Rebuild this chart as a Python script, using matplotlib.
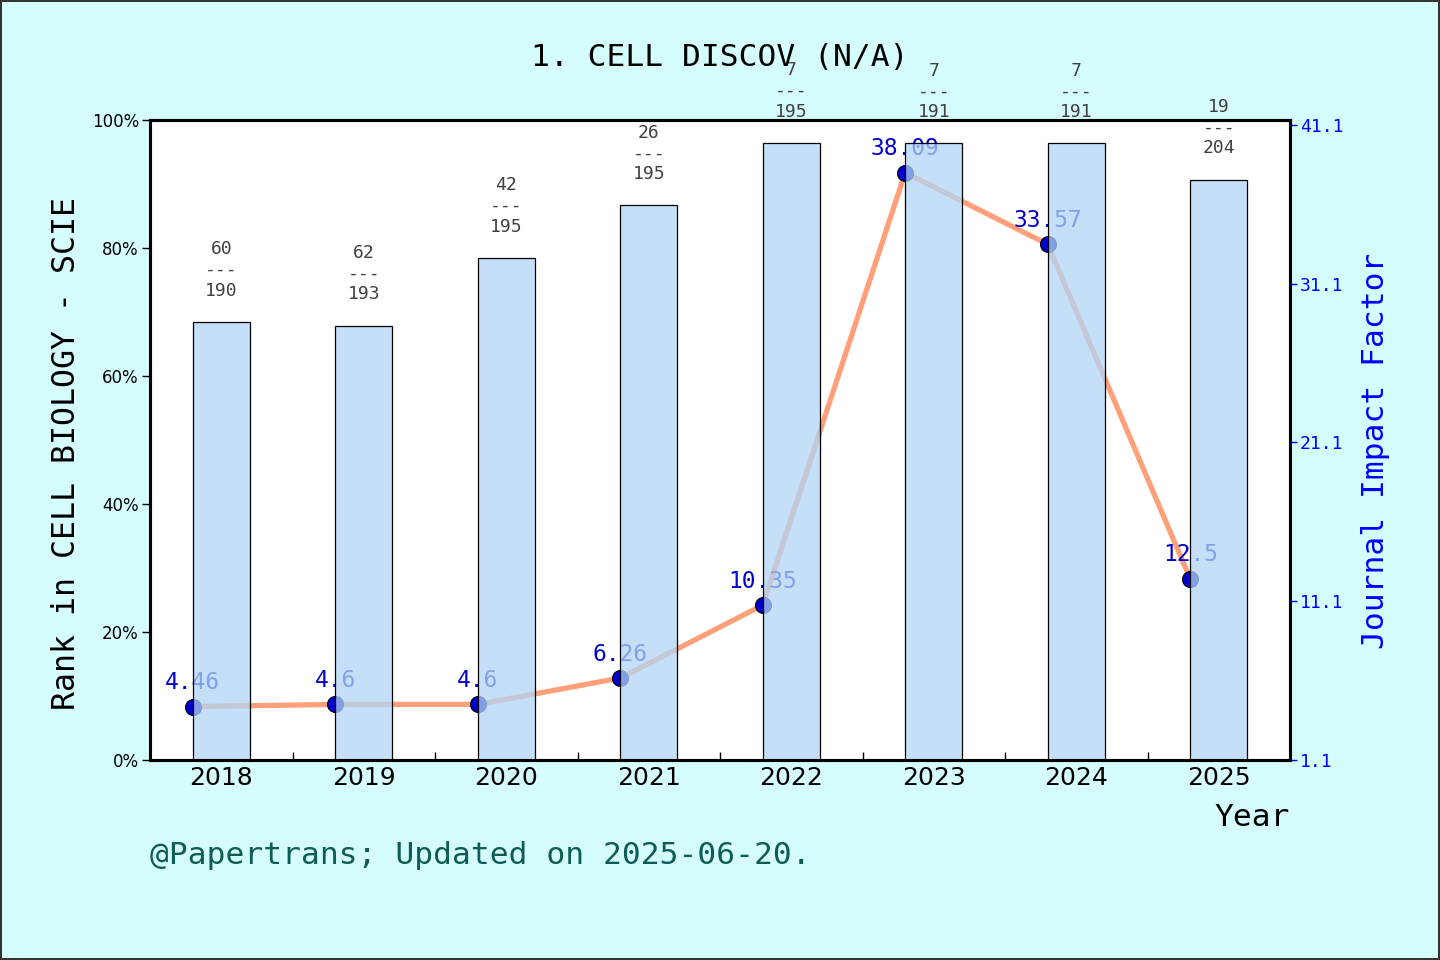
import matplotlib
matplotlib.use("Agg")
import matplotlib.pyplot as plt
import numpy as np
from matplotlib.ticker import FixedLocator, PercentFormatter

years = ["2018", "2019", "2020", "2021", "2022", "2023", "2024", "2025"]
ranks = [60, 62, 42, 26, 7, 7, 7, 19]
totals = [190, 193, 195, 195, 195, 191, 191, 204]
# impact factor as plotted (point heights) and as labelled
impact = [4.46, 4.6, 4.6, 6.26, 10.85, 38.09, 33.57, 12.5]
impact_labels = ["4.46", "4.6", "4.6", "6.26", "10.35", "38.09", "33.57", "12.5"]
if_ticks = [1.1, 11.1, 21.1, 31.1, 41.1]

title = "1. CELL DISCOV (N/A)"
left_label = "Rank in CELL BIOLOGY - SCIE"
right_label = "Journal Impact Factor"
footnote = "@Papertrans; Updated on 2025-06-20."

mono = "DejaVu Sans Mono"
bg = "#D6FDFD"

fig = plt.figure(figsize=(14.4, 9.6), dpi=100, facecolor=bg)
fig.patch.set_edgecolor("#333333")
fig.patch.set_linewidth(1.5)

ax2 = fig.add_axes([150/1440, 1-760/960, 1140/1440, 640/960])
ax = ax2.twinx()
# bars axis drawn above the line axis
ax2.set_zorder(1)
ax.set_zorder(2)
ax.patch.set_visible(False)
ax2.set_facecolor("white")

x = np.arange(len(years))
share = [1 - r / t for r, t in zip(ranks, totals)]

# line (impact factor) on ax2, which is under the bars
ax2.plot(x, impact, color="#FFA07A", lw=3.8, zorder=2, solid_capstyle="butt")
ax2.plot(x, impact, "o", ms=11.5, mfc="#0000CD", mec="black", mew=0.8, zorder=3)
for xi, v, lab in zip(x, impact, impact_labels):
    ax2.annotate(lab, (xi, v), xytext=(0, 9), textcoords="offset points",
                 ha="center", va="bottom", color="#0000CD", fontsize=16.5,
                 family=mono, zorder=4)
ax2.set_ylim(1.1, 41.4)
ax2.set_xlim(-0.3, 7.7)

# bars on ax (left spine: percentage)
ax.bar(x, share, width=0.4, align="edge", facecolor=(176/255, 213/255, 245/255, 0.75),
       edgecolor="black", linewidth=0.9, zorder=2)
for xi, s, r, t in zip(x, share, ranks, totals):
    ax.annotate(f"{r}\n---\n{t}", (xi + 0.2, s), xytext=(0, 16), textcoords="offset points",
                ha="center", va="bottom", color="#404040", fontsize=13,
                family=mono, linespacing=1.2, annotation_clip=False, zorder=5)
ax.set_ylim(0, 1)

# put percentage axis on the left, IF on the right
ax.yaxis.set_label_position("left")
ax.yaxis.tick_left()
ax2.yaxis.set_label_position("right")
ax2.yaxis.tick_right()

ax.yaxis.set_major_locator(FixedLocator([0, 0.2, 0.4, 0.6, 0.8, 1.0]))
ax.yaxis.set_major_formatter(PercentFormatter(1.0, decimals=0))
ax.tick_params(axis="y", direction="out", length=6, width=1, labelsize=12, colors="black", pad=2)

ax2.yaxis.set_major_locator(FixedLocator(if_ticks))
ax2.set_yticklabels([f"{v:.1f}" for v in if_ticks])
ax2.tick_params(axis="y", direction="out", length=5, width=1, labelsize=13, colors="#0000FF",
                pad=2)
for lab in ax2.get_yticklabels():
    lab.set_family(mono)

# x axis: labels at bar centers, tick marks between
ax2.set_xticks(x + 0.2)
ax2.set_xticklabels(years, fontsize=18)
ax2.tick_params(axis="x", which="major", length=0, pad=4)
ax2.set_xticks(np.arange(len(years)) + 0.7, minor=True)
ax2.tick_params(axis="x", which="minor", direction="in", length=6, width=1)
ax2.set_xlim(-0.3, 7.7)

for a in (ax, ax2):
    for sp in a.spines.values():
        sp.set_linewidth(2.2)
        sp.set_color("black")

fig.text(720/1440, 1-57/960, title, ha="center", va="center", fontsize=22.5, family=mono)
fig.text(67/1440, 1-454/960, left_label, ha="center", va="center", rotation=90,
         fontsize=22.8, family=mono)
fig.text(1375/1440, 1-451/960, right_label, ha="center", va="center", rotation=90,
         fontsize=22.5, family=mono, color="#0000FF")
fig.text(1290/1440, 1-817/960, "Year", ha="right", va="center", fontsize=22.5, family=mono)
fig.text(150/1440, 1-855/960, footnote, ha="left", va="center", fontsize=22.5, family=mono,
         color="#0E5C58")

fig.savefig("out.png", dpi=100, facecolor=bg, edgecolor=fig.patch.get_edgecolor())
